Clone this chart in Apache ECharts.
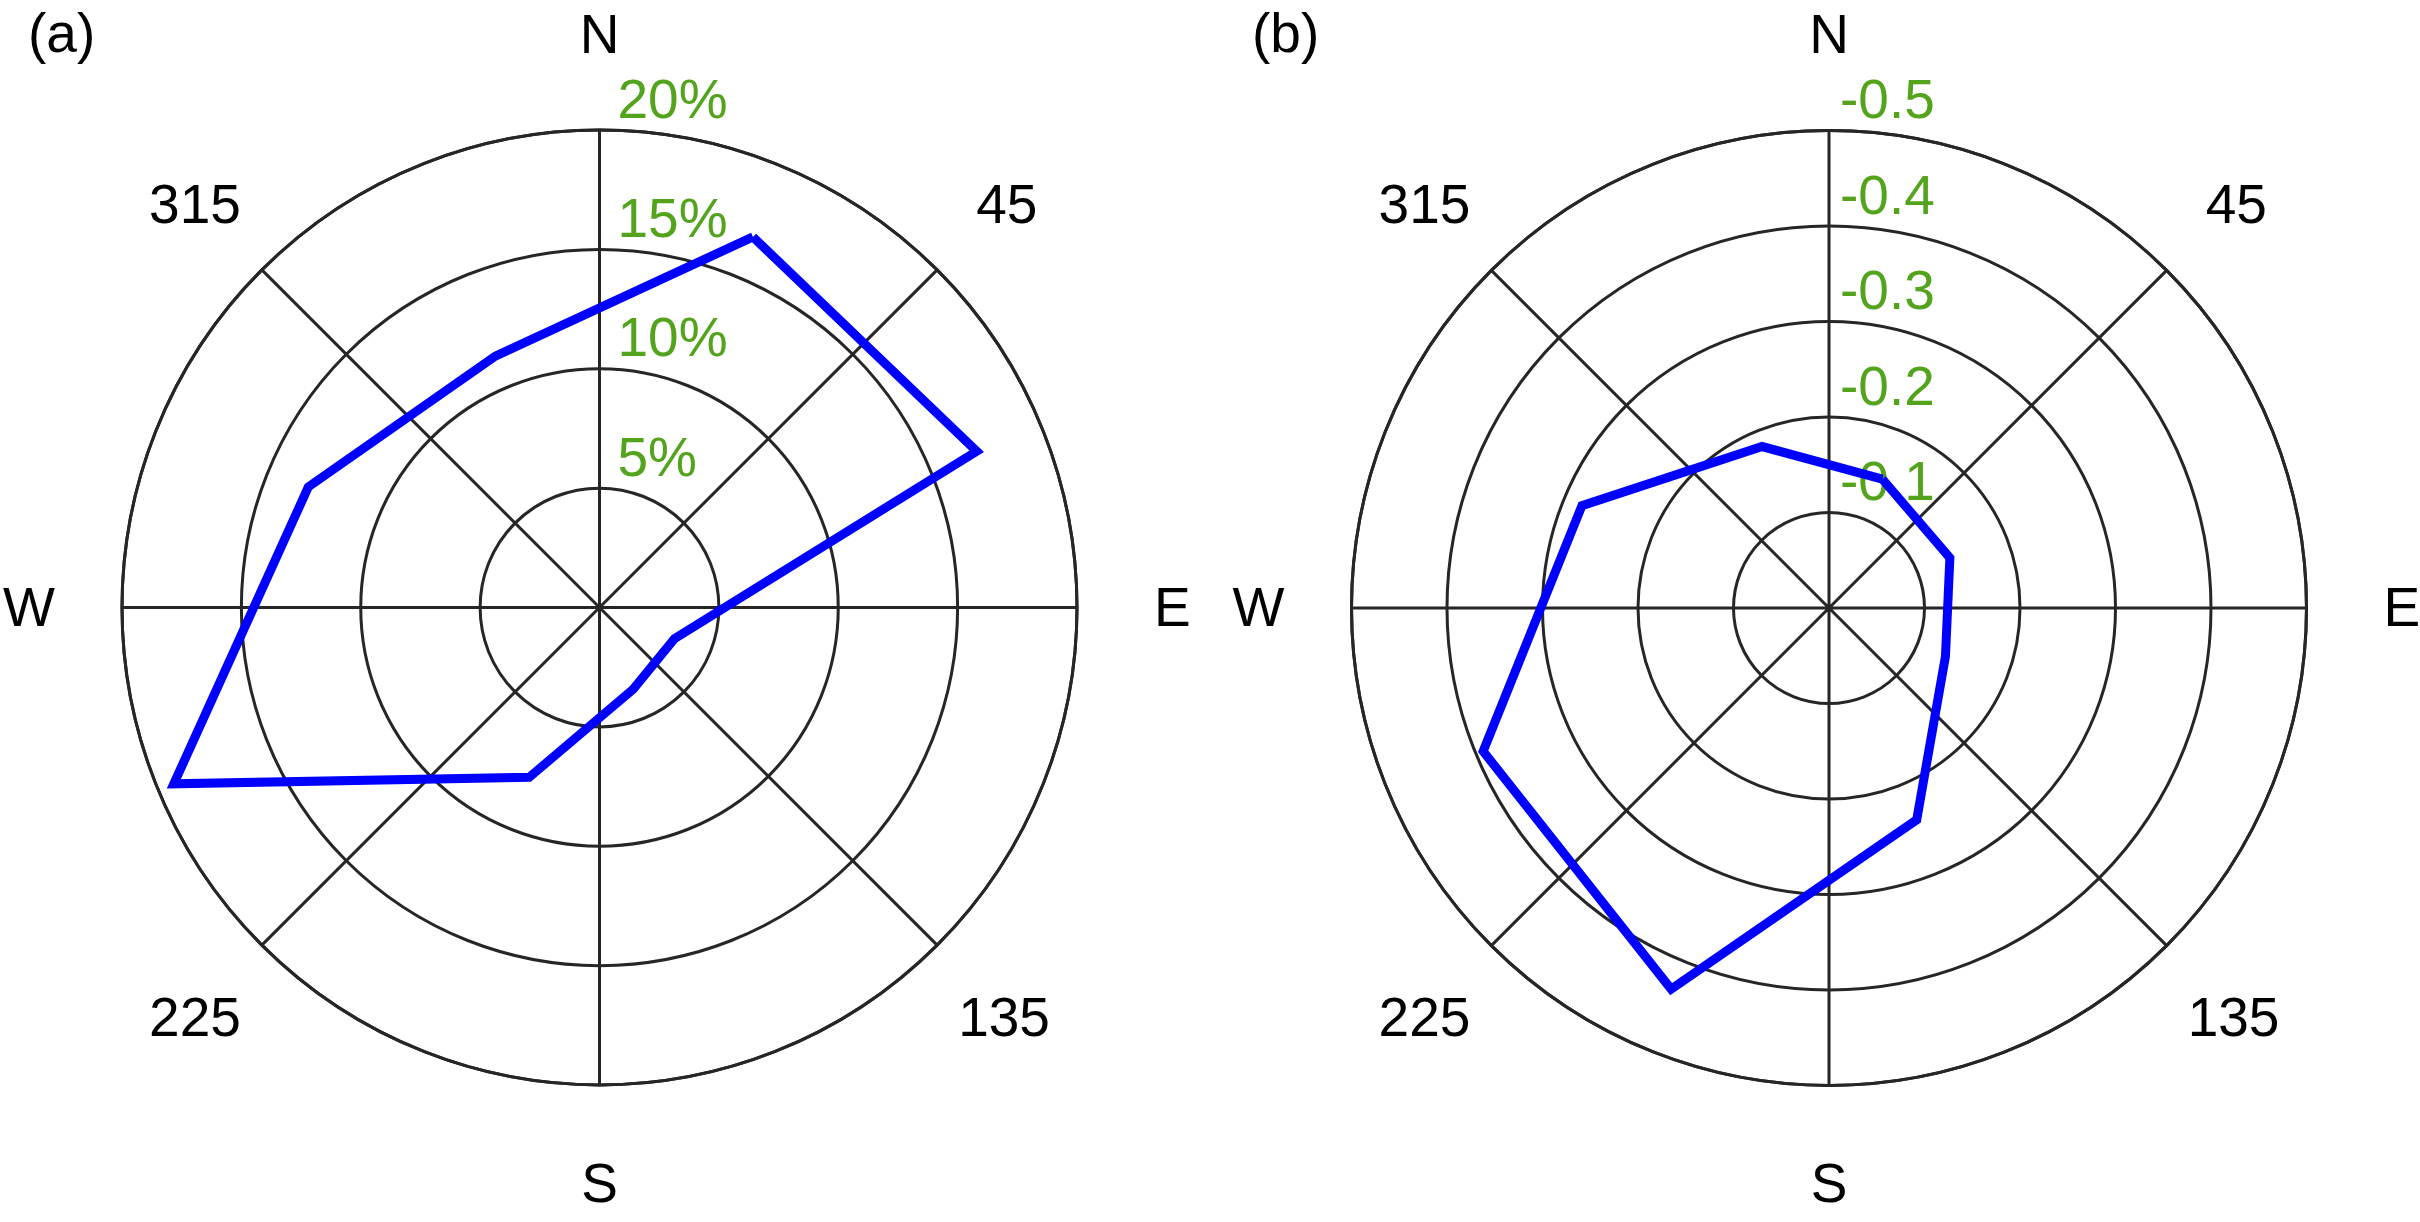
<!DOCTYPE html>
<html>
<head>
<meta charset="utf-8">
<script src="https://cdn.jsdelivr.net/npm/echarts@6/dist/echarts.min.js"></script>
<style>
html,body{margin:0;padding:0;background:#fff;}
#chart{width:2420px;height:1222px;}
</style>
</head>
<body>
<div id="chart"></div>
<script>
// ---- data ----
const directions = [22.5, 67.5, 112.5, 157.5, 202.5, 247.5, 292.5, 337.5];
const freqA = [16.8, 17.1, 3.4, 3.7, 7.7, 19.3, 13.2, 11.4];          // % (panel a)
const corrB = [-0.146, -0.137, -0.132, -0.240, -0.432, -0.392, -0.280, -0.183]; // panel b
const angleTicks = [0, 45, 90, 135, 180, 225, 270, 315];
const angleLabels = ['N', '45', 'E', '135', 'S', '225', 'W', '315'];
const panelTitles = ['(a)', '(b)'];

const FONT = 'Liberation Sans';
const FS = 55;
const GRID = '#262626';
const GW = 3;
const GREEN = '#53a31d';

const keys = ['n', 'ne', 'e', 'se', 's', 'sw', 'w', 'nw'];
const pads = {
  n: [0, 0, 65, 0],
  ne: [0, 0, 35, 39],
  e: [6, 0, 0, 77],
  se: [48, 0, 0, 21],
  s: [74, 0, 0, 0],
  sw: [48, 21, 0, 0],
  w: [6, 67, 0, 0],
  nw: [0, 21, 35, 0]
};
const rich = {};
keys.forEach(k => { rich[k] = { fontFamily: FONT, fontSize: FS, color: '#000', padding: pads[k] }; });

function closeLoop(vals) {
  const d = vals.map((v, i) => [v, directions[i]]);
  d.push([vals[0], directions[0]]);
  return d;
}

function angleAxis(idx) {
  return {
    polarIndex: idx,
    type: 'value',
    min: 0, max: 360, interval: 45,
    startAngle: 90, clockwise: true,
    axisLine: { show: true, lineStyle: { color: GRID, width: GW } },
    axisTick: { show: false },
    splitLine: { show: true, lineStyle: { color: GRID, width: GW } },
    axisLabel: {
      show: true, margin: 0,
      fontFamily: FONT, fontSize: FS, color: '#000',
      formatter: function (v) {
        const i = angleTicks.indexOf(Math.round(v) % 360);
        return i < 0 ? '' : '{' + keys[i] + '|' + angleLabels[i] + '}';
      },
      rich: rich
    }
  };
}

const titleStyle = { fontFamily: FONT, fontSize: FS, fontWeight: 'normal', color: '#000' };

const option = {
  animation: false,
  backgroundColor: '#fff',
  title: [
    { text: panelTitles[0], left: 28, top: 9, padding: 0, textStyle: titleStyle },
    { text: panelTitles[1], left: 1252, top: 9, padding: 0, textStyle: titleStyle }
  ],
  polar: [
    { center: [599.5, 607.5], radius: [0, 477.5] },
    { center: [1829, 608], radius: [0, 477.5] }
  ],
  angleAxis: [angleAxis(0), angleAxis(1)],
  radiusAxis: [
    {
      polarIndex: 0, type: 'value', min: 0, max: 20, interval: 5,
      axisLine: { show: false }, axisTick: { show: false },
      splitLine: { show: true, lineStyle: { color: GRID, width: GW } },
      axisLabel: {
        show: true, margin: -18, align: 'left', verticalAlign: 'bottom',
        fontFamily: FONT, fontSize: FS, color: GREEN,
        formatter: v => (v === 0 ? '' : v + '%')
      }
    },
    {
      polarIndex: 1, type: 'value', min: -0.5, max: 0, interval: 0.1, inverse: true,
      axisLine: { show: false }, axisTick: { show: false },
      splitLine: { show: true, lineStyle: { color: GRID, width: GW } },
      axisLabel: {
        show: true, margin: -11, align: 'left', verticalAlign: 'bottom',
        fontFamily: FONT, fontSize: FS, color: GREEN,
        formatter: v => (Math.abs(v) < 1e-9 ? '' : (Math.round(v * 10) / 10).toFixed(1))
      }
    }
  ],
  series: [
    {
      type: 'line', coordinateSystem: 'polar', polarIndex: 0,
      data: closeLoop(freqA), showSymbol: false, symbol: 'none',
      lineStyle: { color: '#0000ff', width: 9, join: 'miter' }, z: 5
    },
    {
      type: 'line', coordinateSystem: 'polar', polarIndex: 1,
      data: closeLoop(corrB), showSymbol: false, symbol: 'none',
      lineStyle: { color: '#0000ff', width: 9, join: 'miter' }, z: 5
    }
  ]
};

const chart = echarts.init(document.getElementById('chart'), null, { renderer: 'canvas' });
chart.setOption(option);
</script>
</body>
</html>
